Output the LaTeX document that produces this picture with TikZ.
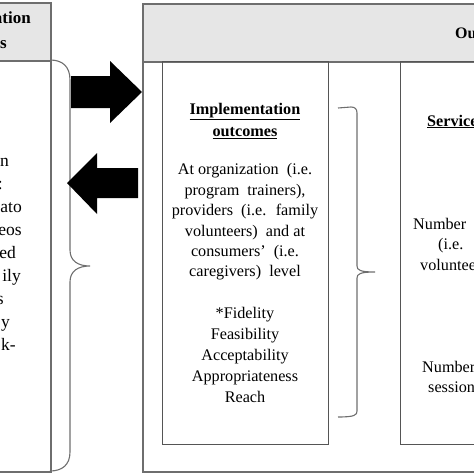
\documentclass[tikz,border=0pt]{standalone}
\usepackage{fontspec}
\setmainfont{Liberation Serif}
\definecolor{edgegray}{HTML}{6E6E6E}
\definecolor{boxgray}{HTML}{555555}
\definecolor{headfill}{HTML}{E6E6E6}
\begin{document}
\begin{tikzpicture}[x=1pt,y=-1pt,
  panelbox/.style={draw=edgegray, line width=1.8pt, inner sep=0pt, anchor=north west},
  headbox/.style={draw=edgegray, fill=headfill, line width=1.8pt, inner sep=0pt, anchor=north west},
  innerbox/.style={draw=boxgray, line width=1.4pt, inner sep=0pt, anchor=north west},
  bracepath/.style={draw=edgegray, line width=1.1pt},
  bigarrow/.style={fill=black},
  bodytext/.style={font=\fontsize{16.2}{20.4}\selectfont, align=center, inner sep=0pt},
  listtext/.style={font=\fontsize{16.2}{21}\selectfont, align=center, inner sep=0pt},
  headtext/.style={font=\fontsize{16.2}{22}\selectfont\bfseries, align=center, inner sep=0pt},
  fragleft/.style={font=\fontsize{17.5}{22}\selectfont, inner sep=0pt, anchor=base east},
  fraghead/.style={font=\fontsize{17}{22}\selectfont\bfseries, inner sep=0pt, anchor=base east},
  fragright/.style={font=\fontsize{16.2}{20}\selectfont, inner sep=0pt, anchor=base west}
]
\useasboundingbox (0,0) rectangle (474,474);
\begin{scope}
\clip (0,0) rectangle (474,474);
% left panel
\node[panelbox, minimum width=170pt, minimum height=469pt] (leftpanel) at (-120,2) {};
\node[headbox, minimum width=170pt, minimum height=58pt] (lefthead) at (-120,2) {};
\node[fraghead] (lh1) at (31,23) {ation};
\node[fraghead] (lh2) at (7,48) {s};
\node[fragleft] (l1) at (9,166) {n};
\node[fragleft] (l2) at (3,189.1) {:};
\node[fragleft] (l3) at (22,212.2) {ato};
\node[fragleft] (l4) at (22,235.3) {eos};
\node[fragleft] (l5) at (16,258.4) {ed};
\node[fragleft] (l6) at (21,281.5) {ily};
\node[fragleft] (l7) at (4,304.6) {s};
\node[fragleft] (l8) at (10,327.7) {y};
\node[fragleft] (l9) at (16,350.8) {k-};
% right panel
\node[panelbox, minimum width=480pt, minimum height=468pt] (rightpanel) at (142,3) {};
\node[headbox, minimum width=480pt, minimum height=58pt] (righthead) at (142,3) {};
\node[font=\fontsize{16}{20}\selectfont\bfseries, inner sep=0pt, anchor=base west] (outtitle) at (455,38) {Outcomes};
% inner boxes
\node[innerbox, minimum width=166pt, minimum height=383pt] (implbox) at (162,61) {};
\node[innerbox, minimum width=166pt, minimum height=383pt] (servbox) at (400,61) {};
% implementation text
\node[headtext] (implhead) at (245,121) {\underline{Implementation}\\\underline{outcomes}};
\node[bodytext] (impltext) at (245,222) {At organization~ (i.e.\\program~ trainers),\\providers~ (i.e.~ family\\volunteers)~ and at\\consumers’~ (i.e.\\caregivers)~ level};
\node[listtext] (impllist) at (245,355) {*Fidelity\\Feasibility\\Acceptability\\Appropriateness\\Reach};
% service text
\node[font=\fontsize{16.2}{20}\selectfont\bfseries, inner sep=0pt, anchor=base west] (servhead) at (427,126) {\underline{Service outcomes}};
\node[fragright] (s1) at (413,229) {Number~ of};
\node[fragright] (s2) at (438,249) {(i.e.};
\node[fragright] (s3) at (420,270) {volunteers)};
\node[fragright] (s4) at (422,372) {Number};
\node[fragright] (s5) at (428,392) {sessions};
% braces
\draw[bracepath] (50,60) .. controls (62,60) and (70,66) .. (70,80) -- (70,250)
  .. controls (70,261) and (78,266) .. (90,266)
  .. controls (78,266) and (70,271) .. (70,282) -- (70,452)
  .. controls (70,465) and (62,471) .. (50,471);
\draw[bracepath] (338,108) -- (351,107) .. controls (355,107) and (357,109) .. (357,113) -- (357,266)
  .. controls (357,270) and (360,272) .. (375,272)
  .. controls (360,272) and (357,274) .. (357,278) -- (357,411)
  .. controls (357,415) and (355,417) .. (338,417);
% arrows
\fill[bigarrow] (71,76) -- (110,76) -- (110,61) -- (142,92) -- (110,123) -- (110,108) -- (71,108) -- cycle;
\fill[bigarrow] (138,168) -- (97,168) -- (97,153) -- (67,183) -- (97,214) -- (97,198) -- (138,198) -- cycle;
\end{scope}
\end{tikzpicture}
\end{document}
